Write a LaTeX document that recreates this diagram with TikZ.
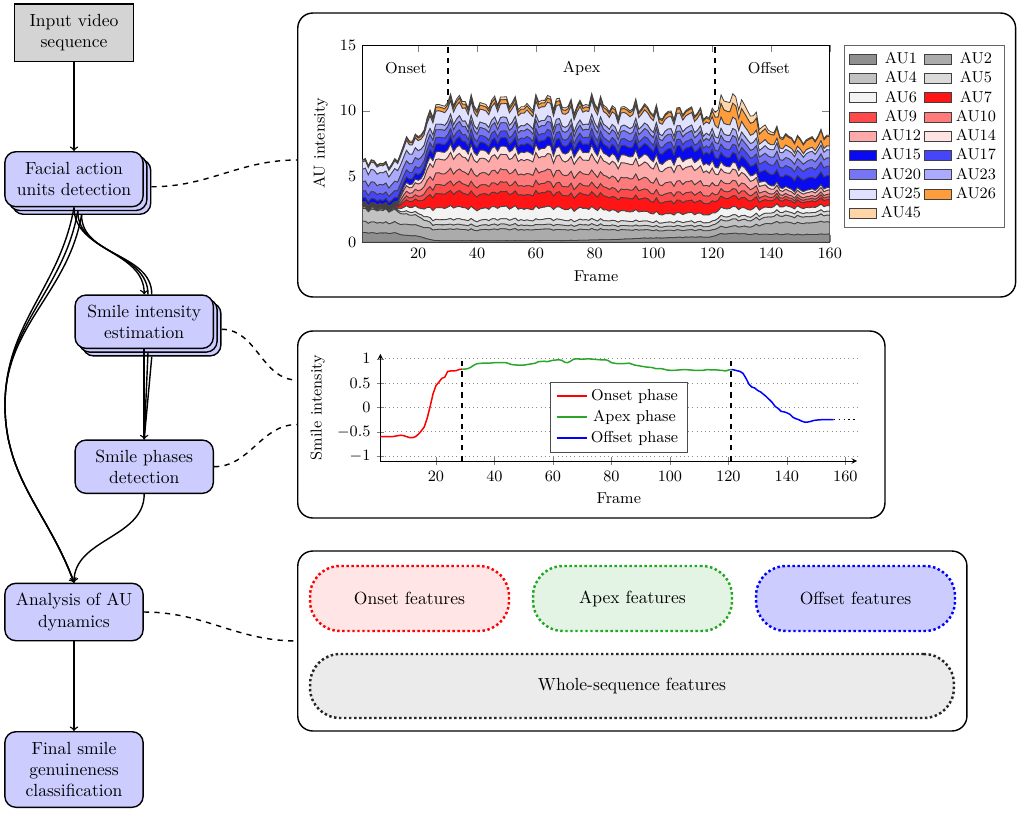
\documentclass[tikz,border=0pt]{standalone}
\usepackage{pgfplots}
\pgfplotsset{compat=1.18}
\definecolor{au1}{HTML}{8F8F8F}
\definecolor{au2}{HTML}{ABABAB}
\definecolor{au4}{HTML}{C2C2C2}
\definecolor{au5}{HTML}{DADADA}
\definecolor{au6}{HTML}{F3F3F3}
\definecolor{au7}{HTML}{FF1515}
\definecolor{au9}{HTML}{FF4A4A}
\definecolor{au10}{HTML}{FF7A7A}
\definecolor{au12}{HTML}{FFAAAA}
\definecolor{au14}{HTML}{FFE2E2}
\definecolor{au15}{HTML}{0A0AF0}
\definecolor{au17}{HTML}{4545FA}
\definecolor{au20}{HTML}{7575F5}
\definecolor{au23}{HTML}{AAAAFF}
\definecolor{au25}{HTML}{E0E0FF}
\definecolor{au26}{HTML}{FF9C3C}
\definecolor{au45}{HTML}{FFD5A8}
\definecolor{featgreen}{HTML}{1FA71F}
\definecolor{curvegreen}{HTML}{2CA52C}
\pgfmathsetseed{4242}
\tikzset{
  declare function={
    sg(\Tt,\Cc,\Ww)=1/(1+exp(-max(min((\Tt-\Cc)/\Ww,9),-9)));
    nz(\Tt)=1+0.035*sin(97*\Tt)+0.025*sin(211*\Tt+30)+0.025*sin(23*\Tt+50);
    ly(\Tt,\Pa,\Pb,\Pc,\Pd,\Pe)=max(0.02,(\Pa+(\Pb-\Pa)*(0.35*sg(\Tt,14,0.6)+0.65*sg(\Tt,22.5,1.2))+(\Pc-\Pb)*sg(\Tt,92,8)+(\Pd-\Pc)*sg(\Tt,121,0.7)+(\Pe-\Pd)*sg(\Tt,136,2.5))*(nz(\Tt)+0.045*rand));
  }
}
\begin{document}
\begin{tikzpicture}[x=0.02cm,y=-0.02cm,
  proc/.style={draw, thick, fill=blue!20, rounded corners=0.22cm, align=center, minimum width=2.766cm, minimum height=1.1cm, inner sep=2pt},
  edge/.style={thick},
  link/.style={thick, dashed},
  panel/.style={draw, thick, rounded corners=0.3cm, inner sep=0pt},
  feat/.style={line width=1.4pt, dash pattern=on 1.4pt off 1.45pt, rounded corners=0.6cm, minimum height=1.3cm, minimum width=3.98cm, inner sep=0pt},
  lay/.style={draw=black!75, line width=0.45pt},
  phase/.style={line width=0.85pt, no markers},
]
\useasboundingbox (0,0) rectangle (1024,812);

% panels
\node[panel, minimum width=14.36cm, minimum height=5.68cm] (b1) at (656.7,155) {};
\node[panel, minimum width=11.746cm, minimum height=3.74cm] (b2) at (591.35,424.5) {};
\node[panel, minimum width=13.386cm, minimum height=3.6cm] (b3) at (632.35,641) {};

% flow nodes
\node[proc, fill=black!17, sharp corners, minimum width=2.386cm, minimum height=1.154cm] (input) at (74,32.8) {Input video\\sequence};
\node[proc] (facialc) at (81.58,186.78) {};
\node[proc] (facialb) at (77.79,182.99) {};
\node[proc] (facial) at (74,179.2) {Facial action\\units detection};
\node[proc, minimum height=1.066cm] (smintc) at (151.78,329.28) {};
\node[proc, minimum height=1.066cm] (smintb) at (147.99,325.49) {};
\node[proc, minimum height=1.066cm] (smint) at (144.2,321.7) {Smile intensity\\estimation};
\node[proc, minimum height=1.066cm] (phases) at (144.2,466.7) {Smile phases\\detection};
\node[proc, minimum height=1.148cm] (anal) at (74,612) {Analysis of AU\\dynamics};
\node[proc, minimum height=1.512cm] (final) at (74,769.5) {Final smile\\genuineness\\classification};

\coordinate (lft) at (5,405);
\coordinate (c1) at (362.4,242.3);
\coordinate (c2) at (380.4,461);

% edges
\draw[edge,->] (input) -- (facial);
\draw[edge] (facialc.south) to[out=-90,in=90] ([xshift=0.1516cm]smint.north);
\draw[edge] (facialb.south) to[out=-90,in=90] ([xshift=0.0758cm]smint.north);
\draw[edge,->] (facial.south) to[out=-90,in=90] (smint.north);
\draw[edge] (facialc.south) to[out=-100,in=90] (lft) to[out=-90,in=110] (anal.north);
\draw[edge] (facialb.south) to[out=-100,in=90] (lft) to[out=-90,in=110] (anal.north);
\draw[edge,->] (facial.south) to[out=-100,in=90] (lft) to[out=-90,in=110] (anal.north);
\draw[edge] (smintc.south) -- (phases.north);
\draw[edge] (smintb.south) -- (phases.north);
\draw[edge,->] (smint.south) -- (phases.north);
\draw[edge,->] (phases.south) to[out=-90,in=90] (anal.north);
\draw[edge,->] (anal) -- (final);

% dashed links
\draw[link] (facialc.east) to[out=0,in=180] ([yshift=-0.1cm]b1.west);
\draw[link] (smintc.east) to[out=0,in=180] ([yshift=0.89cm]b2.west);
\draw[link] (phases.east) to[out=0,in=180] (b2.west);
\draw[link] (anal.east) to[out=0,in=180] (b3.west);

% feature boxes
\node[feat, draw=red, fill=red!10] (onf) at (409.5,598.5) {Onset features};
\node[feat, draw=featgreen, fill=featgreen!12] (apf) at (632.5,598.5) {Apex features};
\node[feat, draw=blue, fill=blue!20] (off) at (855.5,598.5) {Offset features};
\node[feat, draw=black!85, fill=black!8, minimum width=12.88cm, minimum height=1.28cm] (whf) at (632,686) {Whole-sequence features};

% chart 1: stacked AU intensities
\begin{axis}[at={(c1)}, anchor=south west, scale only axis, width=9.35cm, height=3.948cm,
  xmin=1, xmax=160, ymin=0, ymax=15, xtick={20,40,...,160}, ytick={0,5,10,15},
  xlabel={Frame}, ylabel={AU intensity},
  tick label style={font=\small}, label style={font=\small},
  stack plots=y, no markers, samples at={1,...,160},
  legend image code/.code={\draw[#1] (0cm,-0.1cm) rectangle (0.54cm,0.1cm);},
  legend columns=2, legend cell align=center,
  legend style={at={(1.03,1)}, anchor=north west, font=\small, draw=black!60,
    row sep=-1.0pt,
    /tikz/every even column/.append style={column sep=0pt}},
  ]
\addplot[lay, fill=au1] {ly(x,0.7,0.12,0.4,0.65,0.6)} \closedcycle; \addlegendentry{AU1}
\addplot[lay, fill=au2] {ly(x,0.8,0.85,0.5,0.5,0.9)} \closedcycle; \addlegendentry{AU2}
\addplot[lay, fill=au4] {ly(x,0.95,0.35,0.3,0.5,0.5)} \closedcycle; \addlegendentry{AU4}
\addplot[lay, fill=au5] {ly(x,0.1,0.4,0.3,0.3,0.3)} \closedcycle; \addlegendentry{AU5}
\addplot[lay, fill=au6] {ly(x,0.08,0.9,0.6,0.6,0.4)} \closedcycle; \addlegendentry{AU6}
\addplot[lay, fill=au7] {ly(x,0.1,1.1,0.9,0.8,0.45)} \closedcycle; \addlegendentry{AU7}
\addplot[lay, fill=au9] {ly(x,0.05,0.7,0.6,0.5,0.2)} \closedcycle; \addlegendentry{AU9}
\addplot[lay, fill=au10] {ly(x,0.05,0.9,0.8,0.6,0.2)} \closedcycle; \addlegendentry{AU10}
\addplot[lay, fill=au12] {ly(x,0.05,1.1,1.1,0.8,0.3)} \closedcycle; \addlegendentry{AU12}
\addplot[lay, fill=au14] {ly(x,0.05,0.6,0.6,0.5,0.2)} \closedcycle; \addlegendentry{AU14}
\addplot[lay, fill=au15] {ly(x,0.3,0.6,0.85,0.7,0.9)} \closedcycle; \addlegendentry{AU15}
\addplot[lay, fill=au17] {ly(x,0.5,0.5,0.5,0.6,0.7)} \closedcycle; \addlegendentry{AU17}
\addplot[lay, fill=au20] {ly(x,0.7,0.6,0.6,0.6,0.6)} \closedcycle; \addlegendentry{AU20}
\addplot[lay, fill=au23] {ly(x,0.9,0.4,0.4,0.5,0.6)} \closedcycle; \addlegendentry{AU23}
\addplot[lay, fill=au25] {ly(x,0.55,1.0,0.9,0.8,0.3)} \closedcycle; \addlegendentry{AU25}
\addplot[lay, fill=au26] {ly(x,0.12,0.3,0.3,1.0,0.7)} \closedcycle; \addlegendentry{AU26}
\addplot[lay, fill=au45] {ly(x,0.05,0.2,0.1,0.7,0.1)} \closedcycle; \addlegendentry{AU45}
\draw[dashed, line width=1.2pt] (axis cs:30,0) -- (axis cs:30,15);
\draw[dashed, line width=1.2pt] (axis cs:121,0) -- (axis cs:121,15);
\node[font=\small] (lon) at (axis cs:15.8,13.25) {Onset};
\node[font=\small] (lap) at (axis cs:75.6,13.25) {Apex};
\node[font=\small] (lof) at (axis cs:139.3,13.25) {Offset};
\end{axis}

% chart 2: smile intensity
\begin{axis}[at={(c2)}, anchor=south west, scale only axis, width=9.536cm, height=2.142cm,
  axis lines=left, xmin=1, xmax=164, ymin=-1.1, ymax=1.1,
  xtick={20,40,...,160}, ytick={-1,-0.5,0,0.5,1},
  ymajorgrids, grid style={dotted, black!45},
  xlabel={Frame}, ylabel={Smile intensity},
  tick label style={font=\small}, label style={font=\small},
  legend cell align=center,
  legend style={at={(0.5,0.41)}, anchor=center, font=\small, draw=black!70},
  ]
\addplot[phase, color=red] coordinates {(1,-0.6) (2,-0.6) (3,-0.6) (4,-0.6) (5,-0.6) (6,-0.59) (7,-0.58) (8,-0.57) (9,-0.58) (10,-0.6) (11,-0.62) (12,-0.62) (13,-0.6) (14,-0.55) (15,-0.48) (16,-0.4) (17,-0.22) (18,0.02) (19,0.28) (20,0.45) (21,0.52) (22,0.6) (23,0.62) (24,0.74) (25,0.75) (26,0.75) (27,0.76) (28,0.78) (29,0.79)};
\addlegendentry{Onset phase}
\addplot[phase, color=curvegreen] coordinates {(29,0.79) (30,0.79) (31,0.8) (32,0.83) (33,0.87) (34,0.9) (36,0.91) (38,0.91) (40,0.92) (42,0.92) (44,0.92) (45,0.9) (46,0.88) (48,0.87) (50,0.87) (52,0.89) (54,0.91) (55,0.94) (57,0.95) (58,0.94) (60,0.97) (62,0.98) (63,0.97) (64,0.93) (65,0.92) (66,0.95) (67,0.99) (68,1.0) (70,0.99) (72,1.0) (74,0.99) (76,0.98) (78,0.98) (79,0.96) (80,0.92) (82,0.9) (84,0.9) (86,0.91) (87,0.89) (88,0.87) (90,0.85) (92,0.83) (94,0.82) (95,0.8) (97,0.8) (99,0.77) (101,0.76) (103,0.77) (105,0.78) (107,0.77) (109,0.76) (111,0.76) (113,0.78) (114,0.77) (116,0.77) (118,0.76) (119,0.75) (120,0.77) (121,0.78)};
\addlegendentry{Apex phase}
\addplot[phase, color=blue] coordinates {(121,0.78) (122,0.77) (124,0.74) (125,0.7) (126,0.6) (127,0.48) (128,0.42) (129,0.4) (130,0.35) (131,0.32) (132,0.27) (133,0.22) (134,0.16) (135,0.1) (136,0.02) (137,-0.02) (138,-0.08) (139,-0.09) (140,-0.11) (141,-0.14) (142,-0.2) (143,-0.23) (144,-0.25) (145,-0.28) (146,-0.3) (147,-0.3) (148,-0.29) (149,-0.27) (150,-0.26) (152,-0.25) (154,-0.25) (156,-0.25)};
\addlegendentry{Offset phase}
\addplot[black, thick, dotted, no markers, forget plot] coordinates {(156,-0.25) (164,-0.25)};
\draw[dashed, line width=1.2pt] (axis cs:29,-1.1) -- (axis cs:29,1);
\draw[dashed, line width=1.2pt] (axis cs:121,-1.1) -- (axis cs:121,1);
\end{axis}
\end{tikzpicture}
\end{document}
